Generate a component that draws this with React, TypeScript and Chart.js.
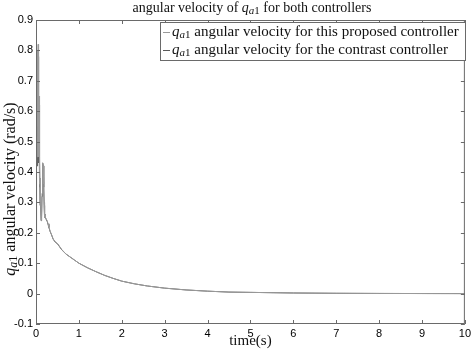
import React, { useEffect, useRef } from "react";
import { Chart, registerables } from "chart.js";
Chart.register(...registerables);

const timeS = [0, 0.005, 0.01, 0.015, 0.02, 0.025, 0.03, 0.035, 0.04, 0.045, 0.05, 0.055, 0.06, 0.065, 0.07, 0.075, 0.08, 0.085, 0.09, 0.095, 0.1, 0.11, 0.12, 0.13, 0.14, 0.15, 0.16, 0.17, 0.18, 0.19, 0.2, 0.21, 0.22, 0.24, 0.26, 0.28, 0.3, 0.33, 0.36, 0.4, 0.45, 0.5, 0.55, 0.6, 0.7, 0.8, 0.9, 1.0, 1.2, 1.4, 1.6, 1.8, 2.0, 2.3, 2.6, 3.0, 3.5, 4.0, 4.5, 5, 6, 7, 8, 9, 10];
const proposed = [0, 0.3, 0.54, 0.4, 0.62, 0.45, 0.72, 0.5, 0.8, 0.55, 0.82, 0.52, 0.75, 0.45, 0.65, 0.4, 0.55, 0.36, 0.45, 0.3, 0.38, 0.3, 0.24, 0.25, 0.33, 0.41, 0.43, 0.42, 0.36, 0.3, 0.25, 0.26, 0.25, 0.245, 0.24, 0.23, 0.22, 0.205, 0.195, 0.18, 0.17, 0.165, 0.155, 0.145, 0.13, 0.12, 0.11, 0.1, 0.085, 0.072, 0.06, 0.05, 0.041, 0.032, 0.025, 0.018, 0.012, 0.008, 0.005, 0.004, 0.002, 0.001, 0.0005, 0.0002, 0];
const contrast = [0, 0.28, 0.5, 0.38, 0.58, 0.42, 0.68, 0.48, 0.76, 0.52, 0.78, 0.5, 0.7, 0.43, 0.62, 0.38, 0.52, 0.35, 0.43, 0.29, 0.36, 0.29, 0.24, 0.25, 0.32, 0.4, 0.43, 0.42, 0.35, 0.29, 0.25, 0.26, 0.25, 0.243, 0.238, 0.228, 0.218, 0.204, 0.194, 0.179, 0.169, 0.164, 0.154, 0.144, 0.13, 0.12, 0.11, 0.1, 0.085, 0.072, 0.06, 0.05, 0.041, 0.032, 0.025, 0.018, 0.012, 0.008, 0.005, 0.004, 0.002, 0.001, 0.0005, 0.0002, 0];
const xTicks = [0, 1, 2, 3, 4, 5, 6, 7, 8, 9, 10];
const yTicks = [-0.1, 0, 0.1, 0.2, 0.3, 0.4, 0.5, 0.6, 0.7, 0.8, 0.9];
const seriesNames = ["angular velocity for this proposed controller", "angular velocity for the contrast controller"];
const seriesColors = ["#9a9a9a", "#5a5a5a"];

const SERIF = '"Liberation Serif", "Times New Roman", serif';
const SANS = '"Liberation Sans", Arial, sans-serif';

type Seg = { t: string; italic?: boolean; sub?: boolean };

function segFont(s: Seg, size: number) {
  const sz = s.sub ? Math.round(size * 0.75) : size;
  return `${s.italic ? "italic " : ""}${sz}px ${SERIF}`;
}

function measureRich(ctx: CanvasRenderingContext2D, segs: Seg[], size: number) {
  let w = 0;
  for (const s of segs) {
    ctx.font = segFont(s, size);
    w += ctx.measureText(s.t).width;
  }
  return w;
}

function drawRich(ctx: CanvasRenderingContext2D, segs: Seg[], x: number, y: number, size: number) {
  let cx = x;
  ctx.textBaseline = "middle";
  ctx.textAlign = "left";
  for (const s of segs) {
    ctx.font = segFont(s, size);
    ctx.fillText(s.t, cx, s.sub ? y + size * 0.2 : y);
    cx += ctx.measureText(s.t).width;
  }
}

const qa1 = (): Seg[] => [{ t: "q", italic: true }, { t: "a", italic: true, sub: true }, { t: "1", sub: true }];

const decorPlugin = {
  id: "decor",
  afterDraw(chart: any) {
    const { ctx, chartArea: a, scales } = chart;
    ctx.save();
    ctx.strokeStyle = "#6a6a6a";
    ctx.lineWidth = 1;
    ctx.strokeRect(a.left + 0.5, a.top + 0.5, a.right - a.left - 1, a.bottom - a.top - 1);
    ctx.beginPath();
    for (const v of xTicks) {
      const px = Math.round(scales.x.getPixelForValue(v)) + 0.5;
      ctx.moveTo(px, a.bottom);
      ctx.lineTo(px, a.bottom - 4);
      ctx.moveTo(px, a.top);
      ctx.lineTo(px, a.top + 4);
    }
    for (const v of yTicks) {
      const py = Math.round(scales.y.getPixelForValue(v)) + 0.5;
      ctx.moveTo(a.left, py);
      ctx.lineTo(a.left + 4, py);
      ctx.moveTo(a.right, py);
      ctx.lineTo(a.right - 4, py);
    }
    ctx.stroke();

    ctx.fillStyle = "#111";
    const titleSegs: Seg[] = [{ t: "angular velocity of " }, ...qa1(), { t: " for both controllers" }];
    const tw = measureRich(ctx, titleSegs, 14);
    drawRich(ctx, titleSegs, 252 - tw / 2, 8, 14);

    ctx.font = `15px ${SERIF}`;
    ctx.textAlign = "center";
    ctx.textBaseline = "middle";
    ctx.fillText("time(s)", (a.left + a.right) / 2, 341);

    const ySegs: Seg[] = [...qa1(), { t: " angular velocity (rad/s)" }];
    const yw = measureRich(ctx, ySegs, 16);
    ctx.save();
    ctx.translate(11, 189);
    ctx.rotate(-Math.PI / 2);
    drawRich(ctx, ySegs, -yw / 2, 0, 16);
    ctx.restore();

    const lx = 160, ly = 22, lw = 305, lh = 38;
    ctx.fillStyle = "#fff";
    ctx.fillRect(lx, ly, lw, lh);
    ctx.strokeStyle = "#6a6a6a";
    ctx.strokeRect(lx + 0.5, ly + 0.5, lw, lh);
    const rows = [32, 50];
    seriesNames.forEach((name, i) => {
      ctx.strokeStyle = seriesColors[i];
      ctx.beginPath();
      ctx.moveTo(163, rows[i] + 0.5);
      ctx.lineTo(170, rows[i] + 0.5);
      ctx.stroke();
      ctx.fillStyle = "#111";
      drawRich(ctx, [...qa1(), { t: " " + name }], 172, rows[i], 15);
    });
    ctx.restore();
  },
};

export default function App() {
  const ref = useRef<HTMLCanvasElement | null>(null);
  useEffect(() => {
    document.body.style.margin = "0";
    const canvas = ref.current!;
    const mk = (vals: number[]) => timeS.map((t, i) => ({ x: t, y: vals[i] }));
    const chart = new Chart(canvas, {
      type: "line",
      data: {
        datasets: [
          { label: seriesNames[0], data: mk(proposed), borderColor: seriesColors[0], borderWidth: 1, pointRadius: 0, tension: 0 },
          { label: seriesNames[1], data: mk(contrast), borderColor: seriesColors[1], borderWidth: 1, pointRadius: 0, tension: 0 },
        ],
      },
      options: {
        animation: false,
        responsive: false,
        parsing: false as any,
        layout: { padding: { top: 20, left: 0, right: 7, bottom: 0 } },
        plugins: { legend: { display: false }, title: { display: false }, tooltip: { enabled: false } },
        scales: {
          x: {
            type: "linear",
            min: 0,
            max: 10,
            grid: { display: false, drawTicks: false },
            border: { display: false },
            afterBuildTicks: (s: any) => { s.ticks = xTicks.map((v) => ({ value: v })); },
            afterFit: (s: any) => { s.height = 29; },
            ticks: { padding: 3, color: "#000", font: { family: SANS, size: 11 }, maxRotation: 0, callback: (v: any) => String(v) },
          },
          y: {
            type: "linear",
            min: -0.1,
            max: 0.9,
            grid: { display: false, drawTicks: false },
            border: { display: false },
            afterBuildTicks: (s: any) => { s.ticks = yTicks.map((v) => ({ value: v })); },
            afterFit: (s: any) => { s.width = 36; },
            ticks: {
              padding: 3,
              color: "#000",
              font: { family: SANS, size: 11 },
              callback: (v: any) => (Math.abs(v) < 1e-9 ? "0" : Number(v).toFixed(1)),
            },
          },
        },
      },
      plugins: [decorPlugin],
    });
    return () => chart.destroy();
  }, []);
  return (
    <div style={{ width: 474, height: 353, background: "#fff" }}>
      <canvas ref={ref} width={474} height={353} />
    </div>
  );
}
